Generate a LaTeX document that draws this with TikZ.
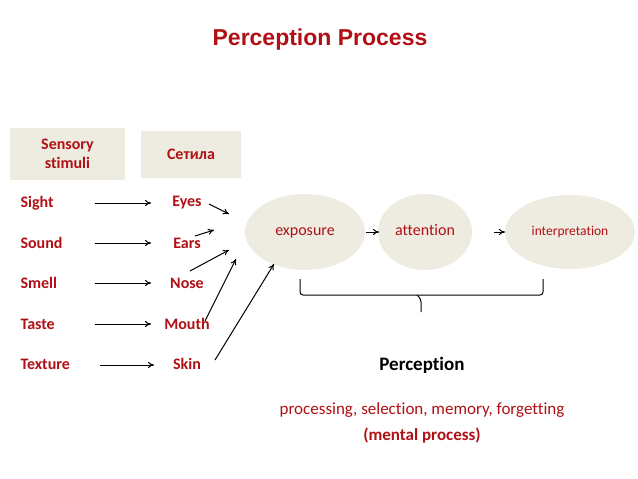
\documentclass[tikz,border=0pt]{standalone}
\usepackage{fontspec}
\setmainfont{Carlito}[Ligatures={NoCommon}]
\newfontfamily\arialf{Liberation Sans}
\usetikzlibrary{shapes.geometric,arrows.meta}
\definecolor{dred}{HTML}{B01015}
\definecolor{beige}{HTML}{EEECE1}
\tikzset{
 lbl/.style={text=dred,font=\fontsize{16}{18}\selectfont\bfseries},
 box/.style={fill=beige,draw=none,text=dred,font=\fontsize{16}{19}\selectfont\bfseries,align=center},
 ell/.style={ellipse,fill=beige,draw=none,text=dred,inner sep=0,text height=9pt,text depth=3pt},
 arr/.style={-{To[length=6pt,width=6pt]},line width=1pt}
}
\begin{document}
\begin{tikzpicture}[x=1pt,y=-1pt]
\useasboundingbox (0,0) rectangle (638,479);
\node[text=dred,font=\arialf\fontsize{23}{26}\selectfont\bfseries] (title) at (320,40) {Perception Process};
\node[box,minimum width=115,minimum height=52] (ss) at (67.5,154) {Sensory\\stimuli};
\node[box,minimum width=100,minimum height=47] (ce) at (191,154.5) {Сетила};
\foreach \n/\t/\y in {a/Sight/203,b/Sound/243,c/Smell/283,d/Taste/324,e/Texture/364}{
  \node[lbl,anchor=west] (s\n) at (17,\y) {\t};
  \coordinate (f\n) at (95,\y);
}
\foreach \n/\t/\y in {a/Eyes/203,b/Ears/243,c/Nose/283,d/Mouth/324,e/Skin/364}{
  \node[lbl] (o\n) at (187,\y) {\t};
  \coordinate (t\n) at (151,\y);
}
\foreach \n in {a,b,c,d}{\draw[arr] (f\n) -- (t\n);}
\coordinate (fe2) at (100,365); \coordinate (te2) at (154,365);
\draw[arr] (fe2) -- (te2);
\node[ell,minimum width=120,minimum height=76,font=\fontsize{16}{18}\selectfont] (exp) at (305,232) {exposure};
\node[ell,minimum width=94,minimum height=76,font=\fontsize{16}{18}\selectfont] (att) at (425,232) {attention};
\node[ell,minimum width=130,minimum height=74,font=\fontsize{13.5}{16}\selectfont] (int) at (570,232) {interpretation};
\draw[arr] (366,232) -- (379,232);
\draw[arr] (494,232) -- (505,232);
\coordinate (ea) at (209,204); \coordinate (eb) at (229,214);
\draw[arr] (ea) -- (eb);
\coordinate (ra) at (195,236); \coordinate (rb) at (214,230);
\draw[arr] (ra) -- (rb);
\coordinate (na) at (190,271); \coordinate (nb) at (229,250);
\draw[arr] (na) -- (nb);
\coordinate (ma) at (205,321); \coordinate (mb) at (236,259);
\draw[arr] (ma) -- (mb);
\coordinate (ka) at (215,360); \coordinate (kb) at (274,264);
\draw[arr] (ka) -- (kb);
\coordinate (b1) at (300,279); \coordinate (b2) at (543,279);
\draw[line width=1pt,rounded corners=3pt] (b1) -- (300,295) -- (543,295) -- (b2);
\draw[line width=1pt,rounded corners=3pt] (417,295) -- (421,299) -- (421,312);
\node[font=\fontsize{19}{22}\selectfont\bfseries] (perc) at (422,365) {Perception};
\node[text=dred,font=\fontsize{17}{20}\selectfont] (proc) at (422,410) {processing, selection, memory, forgetting};
\node[text=dred,font=\fontsize{17}{20}\selectfont\bfseries] (mp) at (422,436) {(mental process)};
\end{tikzpicture}
\end{document}
